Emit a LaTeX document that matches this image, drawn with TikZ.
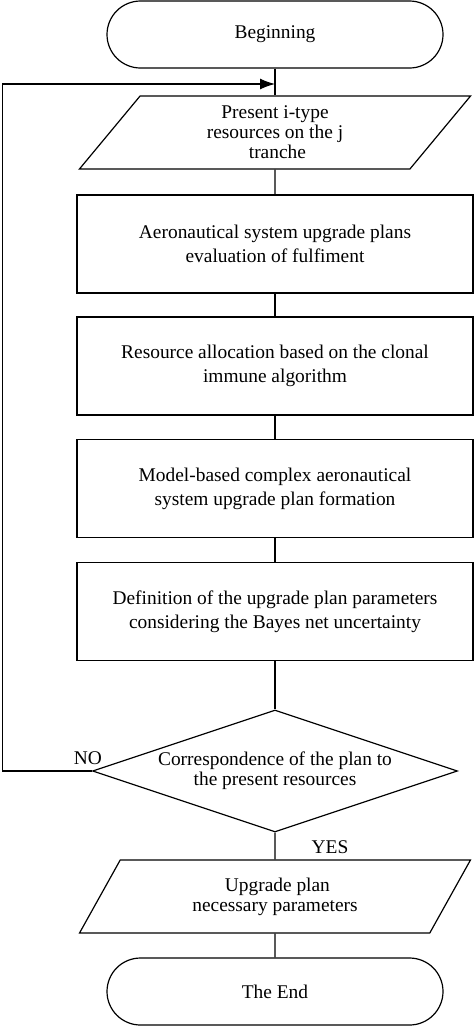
\documentclass[tikz,border=0pt]{standalone}
\usepackage{fontspec}
\setmainfont{Liberation Serif}
\usetikzlibrary{shapes.geometric,arrows.meta}

\begin{document}
\begin{tikzpicture}[x=1pt,y=-1pt,line width=1.2pt,
  font=\fontsize{19.4}{24}\selectfont]
\tikzstyle{terminal}=[draw,rounded corners=33.5pt,minimum width=336pt,minimum height=67pt,inner sep=0pt]
\tikzstyle{process}=[draw,minimum width=396pt,minimum height=98pt,align=center,inner sep=0pt]
\tikzstyle{io}=[draw,trapezium,trapezium left angle=60,trapezium right angle=120,
  trapezium stretches=true,minimum width=392pt,minimum height=73pt,inner sep=0pt,
  align=center,font=\fontsize{19.4}{20}\selectfont]
\tikzstyle{decision}=[draw,diamond,aspect=3.2,minimum width=365pt,minimum height=122pt,
  inner sep=0pt,align=center,font=\fontsize{19.4}{20}\selectfont]
\tikzstyle{loop}=[-{Latex[length=15pt,width=11pt]}]
\useasboundingbox (0,0) rectangle (474,1026);
% blocks
\node (begin) [terminal] at (275,34.5) {Beginning};
\node (pres) [io] at (275,132.5) {Present i-type\\resources on the j\\\ tranche};
\node (eval) [process] at (275,244) {Aeronautical system upgrade plans\\evaluation of fulfiment};
\node (alloc) [process] at (275,366) {Resource allocation based on the clonal\\immune algorithm};
\node (model) [process] at (275,488.5) {Model-based complex aeronautical\\system upgrade plan formation};
\node (param) [process] at (275,611.5) {Definition of the upgrade plan parameters\\considering the Bayes net uncertainty};
\node (check) [decision] at (275,771) {Correspondence of the plan to\\the present resources};
\node (result) [io] at (275,896.5) {\ Upgrade plan\\necessary parameters};
\node (end) [terminal] at (275,991.5) {The End};
% labels
\node (no) at (88,758) {NO};
\node (yes) at (330,847) {YES};
% connectors
\coordinate (join) at (275,84);
\coordinate (left) at (2.5,84);
\draw (begin) -- (pres);
\draw (pres) -- (eval);
\draw (eval) -- (alloc);
\draw (alloc) -- (model);
\draw (model) -- (param);
\draw (param) -- (check);
\draw (check) -- (result);
\draw (result) -- (end);
\draw [loop] (check.west) -| (left) -- (join);
\end{tikzpicture}
\end{document}
